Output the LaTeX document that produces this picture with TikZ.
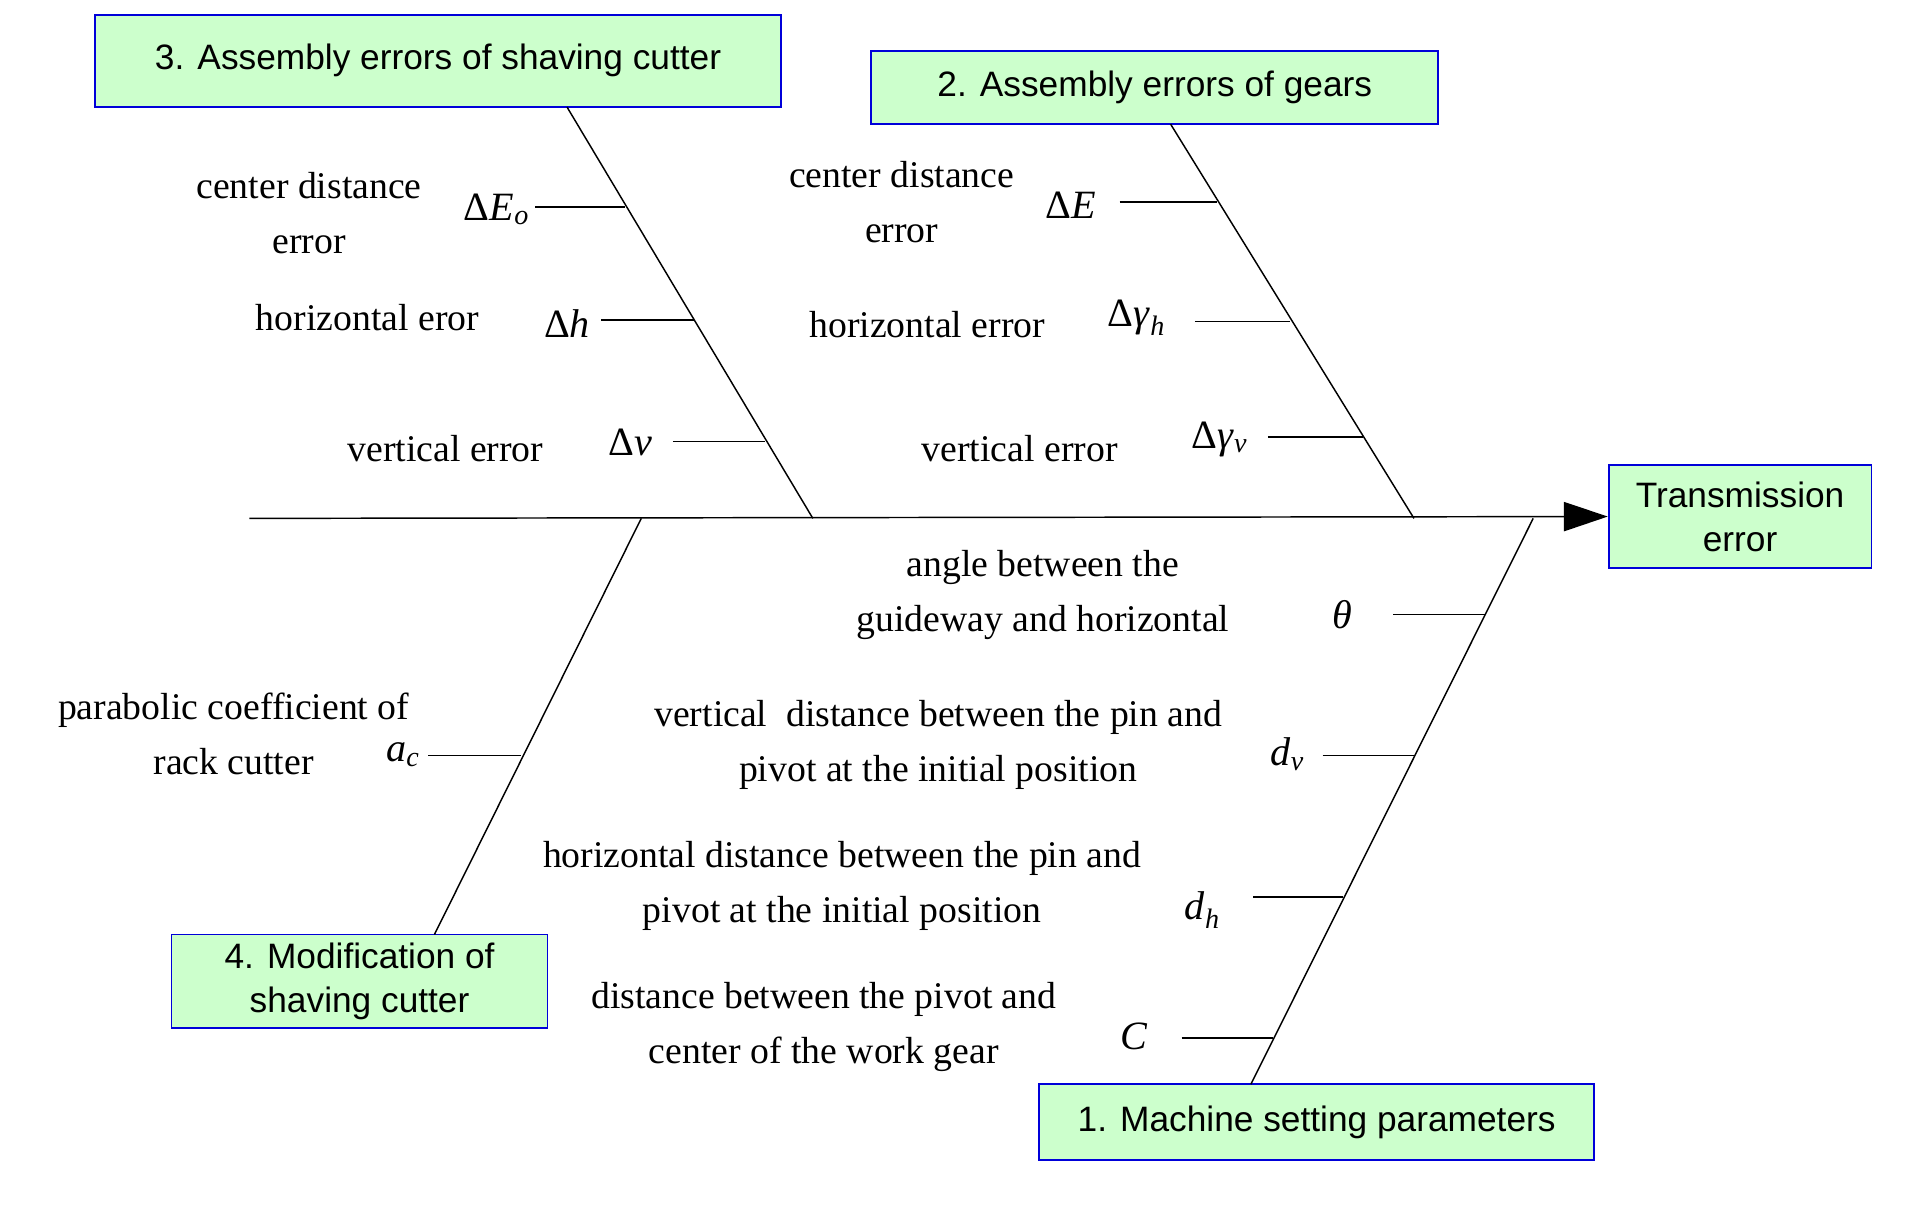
\documentclass[tikz,border=0pt]{standalone}
\usepackage{fontspec}
\setmainfont{Liberation Serif}
\newfontfamily\boxfont{Liberation Sans}
\usetikzlibrary{arrows.meta}
\begin{document}
\begin{tikzpicture}[x=1pt,y=-1pt,
  bx/.style={draw=blue!85!black,line width=1.5pt,fill=green!20,inner sep=0pt,font=\boxfont\fontsize{29}{36}\selectfont,align=center},
  lbl/.style={font=\fontsize{31}{45}\selectfont,align=center,inner sep=0pt},
  sym/.style={font=\fontsize{33}{40}\selectfont,inner sep=0pt},
  ln/.style={line width=1.2pt}]
\useasboundingbox (0,0) rectangle (1568,1009);
% boxes
\node[bx,minimum width=564,minimum height=76] (b3) at (360,50) {3. Assembly errors of shaving cutter};
\node[bx,minimum width=466,minimum height=60] (b2) at (949,72) {2. Assembly errors of gears};
\node[bx,minimum width=216,minimum height=85] (bt) at (1430,424.5) {Transmission\\error};
\node[bx,minimum width=309,minimum height=77] (b4) at (295.5,806.5) {4. Modification of\\shaving cutter};
\node[bx,minimum width=456,minimum height=62] (b1) at (1082,922) {1. Machine setting parameters};
% spine
\coordinate (s0) at (205,426);
\draw[ln,-{Triangle[length=36pt,width=24pt]}] (s0) -- (bt.west);
% bones
\coordinate (t3) at (466,88); \coordinate (e3) at (668,426);
\coordinate (t2) at (962,102); \coordinate (e2) at (1162,426);
\coordinate (t1) at (1028,891); \coordinate (e1) at (1260,426);
\coordinate (t4) at (357,768); \coordinate (e4) at (527,426);
\draw[ln] (t3) -- (e3); \draw[ln] (t2) -- (e2);
\draw[ln] (t1) -- (e1); \draw[ln] (t4) -- (e4);
% ribs group 3
\coordinate (r31a) at (440,170); \coordinate (r31b) at (514,170);
\coordinate (r32a) at (494,263); \coordinate (r32b) at (570,263);
\coordinate (r33a) at (553,363); \coordinate (r33b) at (629,363);
\draw[ln] (r31a)--(r31b); \draw[ln] (r32a)--(r32b); \draw[ln] (r33a)--(r33b);
% group 2
\coordinate (r21a) at (920,166); \coordinate (r21b) at (1000,166);
\coordinate (r22a) at (982,264); \coordinate (r22b) at (1060,264);
\coordinate (r23a) at (1042,359); \coordinate (r23b) at (1120,359);
\draw[ln] (r21a)--(r21b); \draw[ln] (r22a)--(r22b); \draw[ln] (r23a)--(r23b);
% group 1
\coordinate (r11a) at (1145,505); \coordinate (r11b) at (1220,505);
\coordinate (r12a) at (1087,621); \coordinate (r12b) at (1162,621);
\coordinate (r13a) at (1030,737); \coordinate (r13b) at (1104,737);
\coordinate (r14a) at (971,853); \coordinate (r14b) at (1046,853);
\draw[ln] (r11a)--(r11b); \draw[ln] (r12a)--(r12b); \draw[ln] (r13a)--(r13b); \draw[ln] (r14a)--(r14b);
% group 4
\coordinate (r41a) at (352,621); \coordinate (r41b) at (428,621);
\draw[ln] (r41a)--(r41b);
% labels group 3
\node[lbl] (l31) at (254,175) {center distance\\error};
\node[sym] (s31) at (408,172) {Δ\textit{E}\textsubscript{\textit{o}}};
\node[lbl] (l32) at (302,261) {horizontal eror};
\node[sym] (s32) at (466,266) {Δ\textit{h}};
\node[lbl] (l33) at (366,369) {vertical error};
\node[sym] (s33) at (518,364) {Δ\textit{v}};
% group 2
\node[lbl] (l21) at (741,166) {center distance\\error};
\node[sym] (s21) at (880,169) {Δ\textit{E}};
\node[lbl] (l22) at (762,267) {horizontal error};
\node[sym] (s22) at (934,261) {Δ\textit{γ}\textsubscript{\textit{h}}};
\node[lbl] (l23) at (838,369) {vertical error};
\node[sym] (s23) at (1002,361) {Δ\textit{γ}\textsubscript{\textit{v}}};
% group 1
\node[lbl] (l11) at (857,489) {angle between the\\guideway and horizontal};
\node[sym] (s11) at (1103,505) {\textit{θ}};
\node[lbl] (l12) at (771,612) {vertical\ \ distance between the pin and\\pivot at the initial position};
\node[sym] (s12) at (1058,620) {\textit{d}\textsubscript{\textit{v}}};
\node[lbl] (l13) at (692,728) {horizontal distance between the pin and\\pivot at the initial position};
\node[sym] (s13) at (988,748) {\textit{d}\textsubscript{\textit{h}}};
\node[lbl] (l14) at (677,844) {distance between the pivot and\\center of the work gear};
\node[sym] (s14) at (932,852) {\textit{C}};
% group 4
\node[lbl] (l41) at (192,603) {parabolic coefficient of\\rack cutter};
\node[sym] (s41) at (331,620) {\textit{a}\textsubscript{\textit{c}}};
\end{tikzpicture}
\end{document}
